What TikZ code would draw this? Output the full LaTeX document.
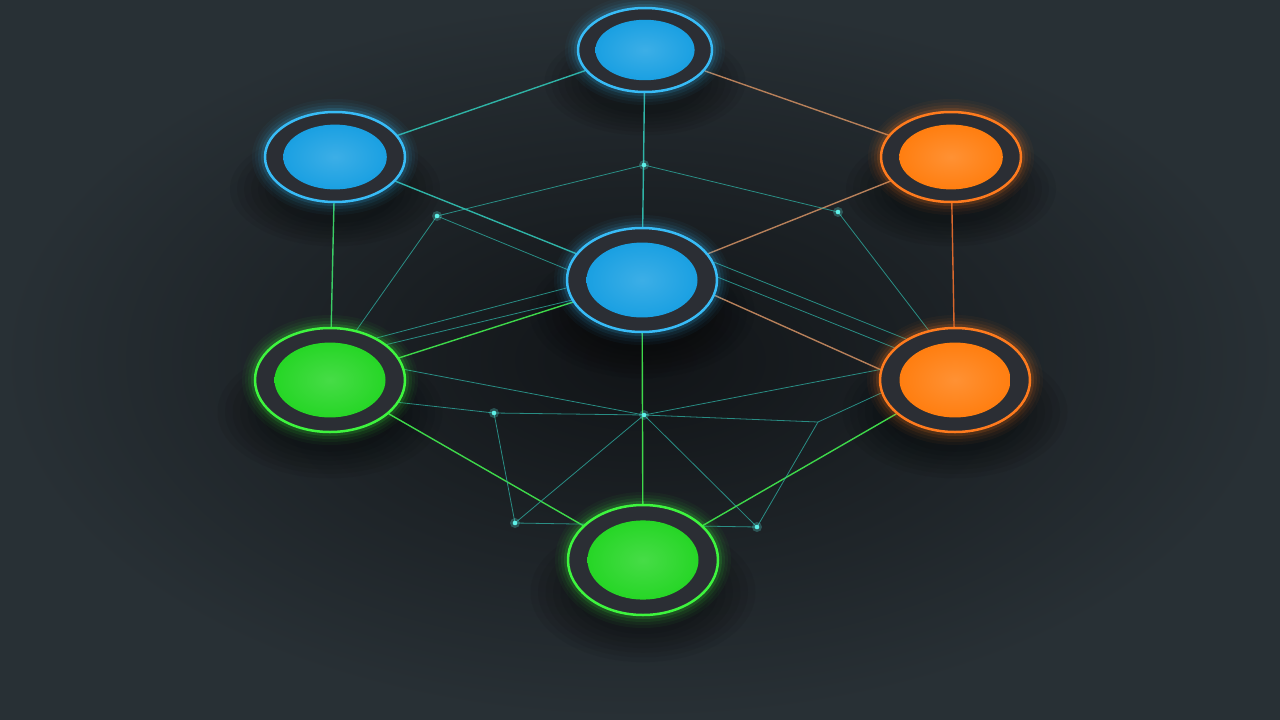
\documentclass[tikz,border=0pt]{standalone}
\usetikzlibrary{shapes.geometric}

\definecolor{bgdark}{HTML}{111417}
\definecolor{bglight}{HTML}{283035}
\definecolor{ringdark}{HTML}{2B2E34}
\definecolor{cblue}{HTML}{38BCF7}
\definecolor{fblue}{HTML}{1AA0E2}
\definecolor{corange}{HTML}{FF7B1E}
\definecolor{forange}{HTML}{FF7E10}
\definecolor{cgreen}{HTML}{3EF53E}
\definecolor{fgreen}{HTML}{26D626}
\definecolor{lteal}{HTML}{2FB3A6}
\definecolor{ltan}{HTML}{B7805A}
\definecolor{lgreen}{HTML}{3ED84A}
\definecolor{lorange}{HTML}{D8672C}
\definecolor{ldot}{HTML}{5FF0E8}

\pgfdeclarelayer{back}
\pgfdeclarelayer{edges}
\pgfsetlayers{back,edges,main}

\tikzset{
  hub/.style={ellipse, line width=2.5pt, fill=ringdark, inner sep=0pt},
  wire/.style={line width=1.4pt, line cap=round},
  thinwire/.style={line width=0.8pt, opacity=0.75, line cap=round},
  dot/.style={fill=ldot}
}

\begin{document}
\begin{tikzpicture}[x=1pt,y=-1pt]

\useasboundingbox (0,0) rectangle (1280,720);

% Background
\begin{pgfonlayer}{back}
\shade [inner color=bgdark, outer color=bglight] (0,0) rectangle (1280,720);
\end{pgfonlayer}

% Nodes: name / centre / radii / ring colour / fill colour
\foreach \n/\cx/\cy/\rx/\ry/\c/\f in {
    top/645/50/67/42/cblue/fblue,
    tl/335/157/70/45/cblue/fblue,
    tr/951/157/70/45/corange/forange,
    hub/642/280/75/52/cblue/fblue,
    ml/330/380/75/52/cgreen/fgreen,
    mr/955/380/75/52/corange/forange,
    bot/643/560/75/55/cgreen/fgreen}
{
  % soft shadow
  \begin{pgfonlayer}{back}
  \foreach \s in {0.9,1.0,...,1.6}
    \fill [black, opacity=0.06] (\cx,\cy+32) ellipse ({\s*\rx} and {\s*\ry*0.85});
  \end{pgfonlayer}
  % glow
  \foreach \w/\o in {26/0.04,20/0.05,14/0.08,8/0.14}
    \draw [\c, line width=\w pt, opacity=\o] (\cx,\cy) ellipse ({\rx} and {\ry});
  \node [hub, draw=\c, minimum width={2*\rx pt}, minimum height={2*\ry pt}] (\n) at (\cx,\cy) {};
  \shade [inner color=\f!85!white, outer color=\f] (\cx,\cy) ellipse ({0.74*\rx} and {0.72*\ry});
}

% Junctions
\coordinate (j1) at (644,165);
\coordinate (j2) at (437,216);
\coordinate (j3) at (838,212);
\coordinate (j4) at (644,415);
\coordinate (j5) at (494,413);
\coordinate (j6) at (515,523);
\coordinate (j7) at (757,527);
\coordinate (j8) at (818,422);

\begin{pgfonlayer}{edges}

% Main links
\draw [wire, lteal] (top) -- (tl);
\draw [wire, ltan] (top) -- (tr);
\draw [wire, lteal] (top) -- (hub);
\draw [wire, lgreen!70!lteal] (tl) -- (ml);
\draw [wire, lorange] (tr) -- (mr);
\draw [wire, lteal] (tl) -- (hub);
\draw [wire, ltan] (tr) -- (hub);
\draw [wire, ltan] (hub.-12) -- (mr.172);
\draw [wire, lgreen] (ml) -- (hub);
\draw [wire, lgreen] (ml) -- (bot);
\draw [wire, lgreen] (mr) -- (bot);
\draw [wire, lgreen] (hub) -- (bot);

% Thin links
\draw [thinwire, lteal] (j1) -- (j2);
\draw [thinwire, lteal] (j1) -- (j3);
\draw [thinwire, lteal] (j2) -- (hub.172);
\draw [thinwire, lteal] (j2) -- (ml.62);
\draw [thinwire, lteal] (j3) -- (mr.118);
\draw [thinwire, lteal] (ml.42) -- (hub.186);
\draw [thinwire, lteal] (ml.32) -- (hub.196);
\draw [thinwire, lteal] (hub.14) -- (mr.140);
\draw [thinwire, lteal] (hub.2) -- (mr.152);
\draw [thinwire, lteal] (ml.8) -- (j4);
\draw [thinwire, lteal] (j4) -- (mr.172);
\draw [thinwire, lteal] (ml.-18) -- (j5) -- (j4) -- (j8) -- (mr.190);
\draw [thinwire, lteal] (j4) -- (j6);
\draw [thinwire, lteal] (j4) -- (j7);
\draw [thinwire, lteal] (j5) -- (j6);
\draw [thinwire, lteal] (j7) -- (j8);
\draw [thinwire, lteal] (j6) -- (j7);

\end{pgfonlayer}

% Junction dots
\foreach \j in {j1,j2,j3,j4,j5,j6,j7} {
  \fill [ldot, opacity=0.25] (\j) circle (5pt);
  \fill [dot] (\j) circle (2.3pt);
}

\end{tikzpicture}
\end{document}
